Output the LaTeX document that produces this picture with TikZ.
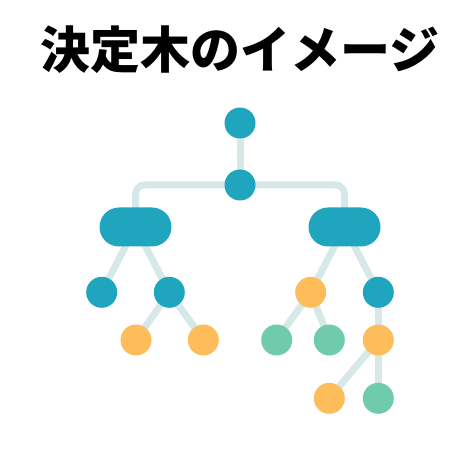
\documentclass[tikz,border=0pt]{standalone}
\usepackage{fontspec}
\newfontfamily\cjk{Noto Sans CJK JP}
\usetikzlibrary{backgrounds}
\definecolor{tealb}{HTML}{20A5BE}
\definecolor{orng}{HTML}{FDBD5B}
\definecolor{grn}{HTML}{6FCBAC}
\definecolor{edgec}{HTML}{D6E8E8}
\tikzset{
  x=1pt, y=-1pt,
  dot/.style={circle, minimum size=31pt, inner sep=0pt, fill=#1},
  pill/.style={rectangle, rounded corners=19.5pt, minimum width=72pt, minimum height=39pt, inner sep=0pt, fill=tealb},
  edge/.style={draw=edgec, line width=7pt}
}
\begin{document}
\begin{tikzpicture}
\useasboundingbox (0,0) rectangle (474,449);
\node[font=\cjk\bfseries\fontsize{50}{60}\selectfont, text=black] (title) at (240,50) {決定木のイメージ};
\node[dot=tealb] (r) at (240,123) {};
\node[dot=tealb] (m) at (240,185) {};
\node[pill] (pl) at (135.5,227) {};
\node[pill] (pr) at (344.5,227) {};
\node[dot=tealb] (l1) at (101.7,292.3) {};
\node[dot=tealb] (l2) at (169.3,292.3) {};
\node[dot=orng] (l3) at (136,340) {};
\node[dot=orng] (l4) at (203.3,340) {};
\node[dot=orng] (r1) at (310.7,292.3) {};
\node[dot=tealb] (r2) at (378.3,292.3) {};
\node[dot=grn] (r3) at (276.7,340) {};
\node[dot=grn] (r4) at (329.3,340) {};
\node[dot=orng] (r5) at (378.3,340) {};
\node[dot=orng] (r6) at (329.3,398.3) {};
\node[dot=grn] (r7) at (378.3,398.3) {};
\begin{scope}[on background layer]
\draw[edge] (r.center) -- (m.center);
\draw[edge, rounded corners=9pt] (m.center) -| (pl.center);
\draw[edge, rounded corners=9pt] (m.center) -| (pr.center);
\draw[edge] (pl.center) -- (l1.center);
\draw[edge] (pl.center) -- (l2.center);
\draw[edge] (l2.center) -- (l3.center);
\draw[edge] (l2.center) -- (l4.center);
\draw[edge] (pr.center) -- (r1.center);
\draw[edge] (pr.center) -- (r2.center);
\draw[edge] (r1.center) -- (r3.center);
\draw[edge] (r1.center) -- (r4.center);
\draw[edge] (r2.center) -- (r5.center);
\draw[edge] (r5.center) -- (r6.center);
\draw[edge] (r5.center) -- (r7.center);
\end{scope}
\end{tikzpicture}
\end{document}
